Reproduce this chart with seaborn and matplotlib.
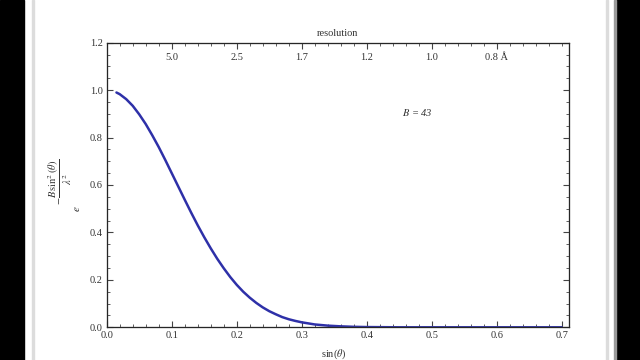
import numpy as np
import pandas as pd
import matplotlib
matplotlib.use("Agg")
import matplotlib.pyplot as plt
import seaborn as sns
from matplotlib.patches import Rectangle
from matplotlib.ticker import MultipleLocator

# curve values
s_vals = [0.015, 0.02, 0.03, 0.04, 0.05, 0.06, 0.07, 0.08, 0.09, 0.10, 0.11,
          0.12, 0.13, 0.14, 0.15, 0.16, 0.17, 0.18, 0.19, 0.20, 0.21,
          0.22, 0.23, 0.24, 0.25, 0.26, 0.27, 0.28, 0.29, 0.30, 0.32,
          0.34, 0.36, 0.38, 0.40, 0.45, 0.50, 0.60, 0.70]
f_vals = [0.990, 0.983, 0.962, 0.934, 0.898, 0.857, 0.810, 0.760, 0.706, 0.650, 0.594,
          0.538, 0.483, 0.430, 0.380, 0.333, 0.289, 0.249, 0.212, 0.179, 0.150,
          0.125, 0.103, 0.084, 0.068, 0.055, 0.043, 0.034, 0.027, 0.021, 0.012,
          0.007, 0.004, 0.002, 0.001, 0.0, 0.0, 0.0, 0.0]

# top axis: resolution in Angstrom
res_pos = [0.1, 0.2, 0.3, 0.4, 0.5, 0.6]
res_labels = ["5.0", "2.5", "1.7", "1.2", "1.0", "0.8 Å"]

df = pd.DataFrame({"s": s_vals, "f": f_vals})

sns.set_style("ticks")
plt.rcParams['font.family'] = ['Liberation Serif', 'DejaVu Serif']
plt.rcParams['mathtext.fontset'] = 'stix'

fig = plt.figure(figsize=(6.4, 3.6), dpi=100)
ax = fig.add_axes([106.7/640, 1 - 327.3/360, (569 - 106.7)/640, (327.3 - 42.7)/360])

sns.lineplot(data=df, x="s", y="f", ax=ax, color="#2e30a8", linewidth=1.8)

ax.set_xlim(0, 0.711)
ax.set_ylim(0, 1.2)
ax.xaxis.set_major_locator(MultipleLocator(0.1))
ax.xaxis.set_minor_locator(MultipleLocator(0.02))
ax.yaxis.set_major_locator(MultipleLocator(0.2))
ax.yaxis.set_minor_locator(MultipleLocator(0.05))
ax.xaxis.set_major_formatter(plt.FuncFormatter(lambda v, p: f"{v:.1f}"))
ax.yaxis.set_major_formatter(plt.FuncFormatter(lambda v, p: f"{v:.1f}"))
ax.tick_params(which="both", direction="in", right=True, color="#444444",
               labelsize=7.5, labelcolor="#333333", pad=3)
ax.tick_params(which="major", length=4, width=0.8)
ax.tick_params(which="minor", length=2, width=0.6)
for sp in ax.spines.values():
    sp.set_color("#555555")
    sp.set_linewidth(0.9)
ax.set_xlabel("")
ax.set_ylabel("")

top = ax.twiny()
top.set_xlim(ax.get_xlim())
top.set_xticks(res_pos)
top.set_xticklabels(res_labels)
top.xaxis.set_minor_locator(MultipleLocator(0.02))
top.tick_params(which="both", direction="in", color="#444444",
                labelsize=7.5, labelcolor="#333333", pad=-14)
top.tick_params(which="major", length=4, width=0.8)
top.tick_params(which="minor", length=2, width=0.6)
top.set_xlabel("resolution", fontsize=7.5, color="#333333", labelpad=5)

ax.text(0.477, 0.906, "$B$ = 43", fontsize=7.5, style="italic",
        color="#333333", ha="center", va="center")

# y label: e raised to the fraction, rotated like the original
fig.text(60/640, 1 - 182/360, r"$-\dfrac{B\,\sin^2(\theta)}{\lambda^2}$",
         rotation=90, fontsize=7.5, color="#333333", ha="center", va="center")
fig.text(78/640, 1 - 209/360, r"$e$", rotation=90, fontsize=8,
         color="#333333", ha="center", va="center")
fig.text(334/640, 1 - 354/360, r"sin($\theta$)", fontsize=7.5,
         color="#333333", ha="center", va="center")

# window frame of the screenshot
fig.patches.append(Rectangle((0, 0), 24/640, 1, transform=fig.transFigure,
                             color="black", zorder=0))
fig.patches.append(Rectangle((616/640, 0), 24/640, 1, transform=fig.transFigure,
                             color="black", zorder=0))
for xp, c in [(32, "#dcdcdc"), (606, "#dcdcdc"), (614, "#9a9a9a")]:
    fig.patches.append(Rectangle((xp/640, 0), 1.5/640, 1, transform=fig.transFigure,
                                 color=c, zorder=0))

fig.savefig("out.png", dpi=100)
